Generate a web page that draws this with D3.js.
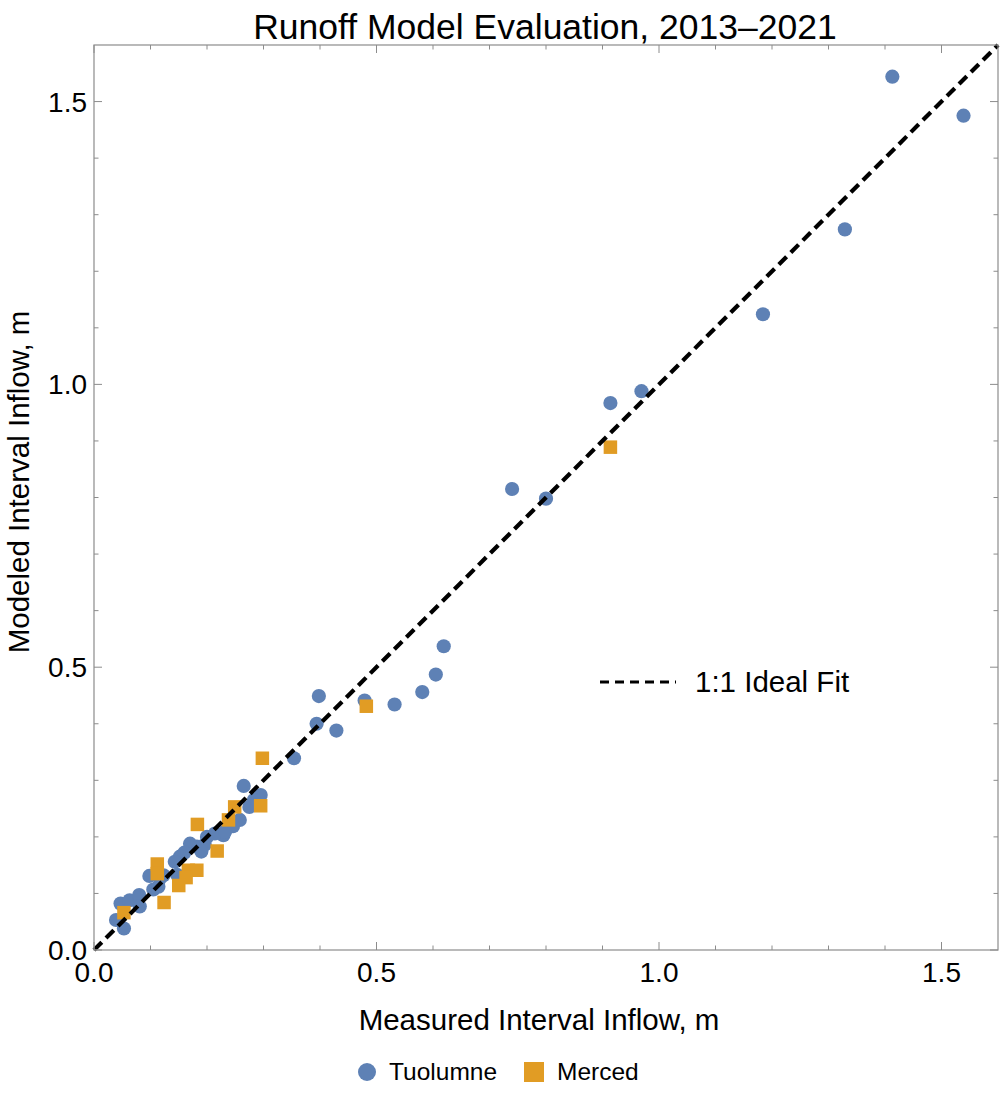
<!DOCTYPE html>
<html>
<head>
<meta charset="utf-8">
<script src="https://cdn.jsdelivr.net/npm/d3@7"></script>
<style>
  body { margin: 0; background: #fff; }
  svg { font-family: "Liberation Sans", Arial, sans-serif; }
</style>
</head>
<body>
<svg id="chart" width="1000" height="1100"></svg>
<script>
// measured vs modeled interval inflow, m
const tuolumne = [
    [1.413, 1.544], [1.539, 1.475], [1.329, 1.274], [1.184, 1.124], [0.969, 0.988],
    [0.914, 0.967], [0.740, 0.815], [0.800, 0.798], [0.619, 0.537], [0.605, 0.487],
    [0.581, 0.456], [0.532, 0.434], [0.479, 0.441], [0.398, 0.449], [0.394, 0.400],
    [0.429, 0.388], [0.354, 0.339],
    [0.265, 0.290], [0.295, 0.274], [0.283, 0.265], [0.275, 0.253], [0.258, 0.230],
    [0.246, 0.219], [0.229, 0.203], [0.214, 0.206], [0.200, 0.200], [0.232, 0.209],
    [0.196, 0.186], [0.182, 0.183], [0.170, 0.188], [0.190, 0.174], [0.160, 0.172],
    [0.152, 0.165], [0.143, 0.156], [0.147, 0.133], [0.117, 0.127], [0.114, 0.112],
    [0.098, 0.131], [0.123, 0.132], [0.105, 0.107], [0.047, 0.082], [0.063, 0.088],
    [0.080, 0.097], [0.081, 0.077], [0.039, 0.053], [0.053, 0.038]
];
const merced = [
    [0.914, 0.889], [0.482, 0.431], [0.298, 0.339], [0.295, 0.255], [0.249, 0.253],
    [0.238, 0.230], [0.183, 0.222], [0.218, 0.175], [0.112, 0.152], [0.112, 0.135],
    [0.167, 0.141], [0.182, 0.141], [0.163, 0.128], [0.150, 0.114], [0.124, 0.084],
    [0.053, 0.066]
];
const fitLine = [[0, 0], [1.6, 1.6]];
const majorTicks = [0, 0.5, 1.0, 1.5];
const minorTicks = d3.range(0, 16).map(i => i / 10);
const seriesNames = ["Tuolumne", "Merced"];

const blue = "#5e81b5";
const orange = "#e19c24";

const svg = d3.select("#chart");

const xScale = d3.scaleLinear().domain([0, 1.6]).range([94, 998]);
const yScale = d3.scaleLinear().domain([0, 1.6]).range([950, 45]);

// title
svg.append("text")
    .attr("x", 545)
    .attr("y", 39)
    .attr("text-anchor", "middle")
    .style("font-size", "35.5px")
    .text("Runoff Model Evaluation, 2013\u20132021");

// points, Tuolumne first then Merced
svg.append("g").selectAll("circle")
    .data(tuolumne)
    .enter()
    .append("circle")
    .attr("cx", d => xScale(d[0]))
    .attr("cy", d => yScale(d[1]))
    .attr("r", 7.1)
    .attr("fill", blue);

const sq = 13.5;
svg.append("g").selectAll("rect")
    .data(merced)
    .enter()
    .append("rect")
    .attr("x", d => xScale(d[0]) - sq / 2)
    .attr("y", d => yScale(d[1]) - sq / 2)
    .attr("width", sq)
    .attr("height", sq)
    .attr("fill", orange);

// 1:1 line
const line = d3.line()
    .x(d => xScale(d[0]))
    .y(d => yScale(d[1]));

svg.append("path")
    .datum(fitLine)
    .attr("d", line)
    .attr("fill", "none")
    .attr("stroke", "black")
    .attr("stroke-width", 4.2)
    .attr("stroke-dasharray", "11,6");

// frame with inward ticks on every side
const frameColor = "#8c8c8c";
svg.append("rect")
    .attr("x", xScale(0))
    .attr("y", yScale(1.6))
    .attr("width", xScale(1.6) - xScale(0))
    .attr("height", yScale(0) - yScale(1.6))
    .attr("fill", "none")
    .attr("stroke", frameColor)
    .attr("stroke-width", 1.2);

const ticks = svg.append("g").attr("stroke", frameColor).attr("stroke-width", 1);
minorTicks.forEach(t => {
    const isMajor = majorTicks.some(m => Math.abs(m - t) < 1e-9);
    const len = isMajor ? 8 : 4.5;
    const x = xScale(t), y = yScale(t);
    ticks.append("line").attr("x1", x).attr("x2", x).attr("y1", yScale(0)).attr("y2", yScale(0) - len);
    ticks.append("line").attr("x1", x).attr("x2", x).attr("y1", yScale(1.6)).attr("y2", yScale(1.6) + len);
    ticks.append("line").attr("x1", xScale(0)).attr("x2", xScale(0) + len).attr("y1", y).attr("y2", y);
    ticks.append("line").attr("x1", xScale(1.6)).attr("x2", xScale(1.6) - len).attr("y1", y).attr("y2", y);
});

const fmt = d3.format(".1f");
svg.append("g").selectAll("text")
    .data(majorTicks)
    .enter()
    .append("text")
    .attr("x", d => xScale(d))
    .attr("y", 982)
    .attr("text-anchor", "middle")
    .style("font-size", "28px")
    .text(fmt);

svg.append("g").selectAll("text")
    .data(majorTicks)
    .enter()
    .append("text")
    .attr("x", 87)
    .attr("y", d => yScale(d))
    .attr("dy", "0.36em")
    .attr("text-anchor", "end")
    .style("font-size", "28px")
    .text(fmt);

// axis labels
svg.append("text")
    .attr("x", 539)
    .attr("y", 1030)
    .attr("text-anchor", "middle")
    .style("font-size", "29.5px")
    .text("Measured Interval Inflow, m");

svg.append("text")
    .attr("transform", "translate(29, 482) rotate(-90)")
    .attr("text-anchor", "middle")
    .style("font-size", "29.5px")
    .text("Modeled Interval Inflow, m");

// inset legend for the 1:1 line
svg.append("line")
    .attr("x1", 600)
    .attr("x2", 676)
    .attr("y1", 682)
    .attr("y2", 682)
    .attr("stroke", "black")
    .attr("stroke-width", 3)
    .attr("stroke-dasharray", "9,6");

svg.append("text")
    .attr("x", 695)
    .attr("y", 692)
    .style("font-size", "29.5px")
    .text("1:1 Ideal Fit");

// bottom legend
const legend = svg.append("g");
legend.append("circle")
    .attr("cx", 367)
    .attr("cy", 1072)
    .attr("r", 9)
    .attr("fill", blue);
legend.append("text")
    .attr("x", 389)
    .attr("y", 1080)
    .style("font-size", "24.5px")
    .text(seriesNames[0]);
legend.append("rect")
    .attr("x", 524)
    .attr("y", 1062)
    .attr("width", 20)
    .attr("height", 20)
    .attr("fill", orange);
legend.append("text")
    .attr("x", 557)
    .attr("y", 1080)
    .style("font-size", "24.5px")
    .text(seriesNames[1]);
</script>
</body>
</html>
